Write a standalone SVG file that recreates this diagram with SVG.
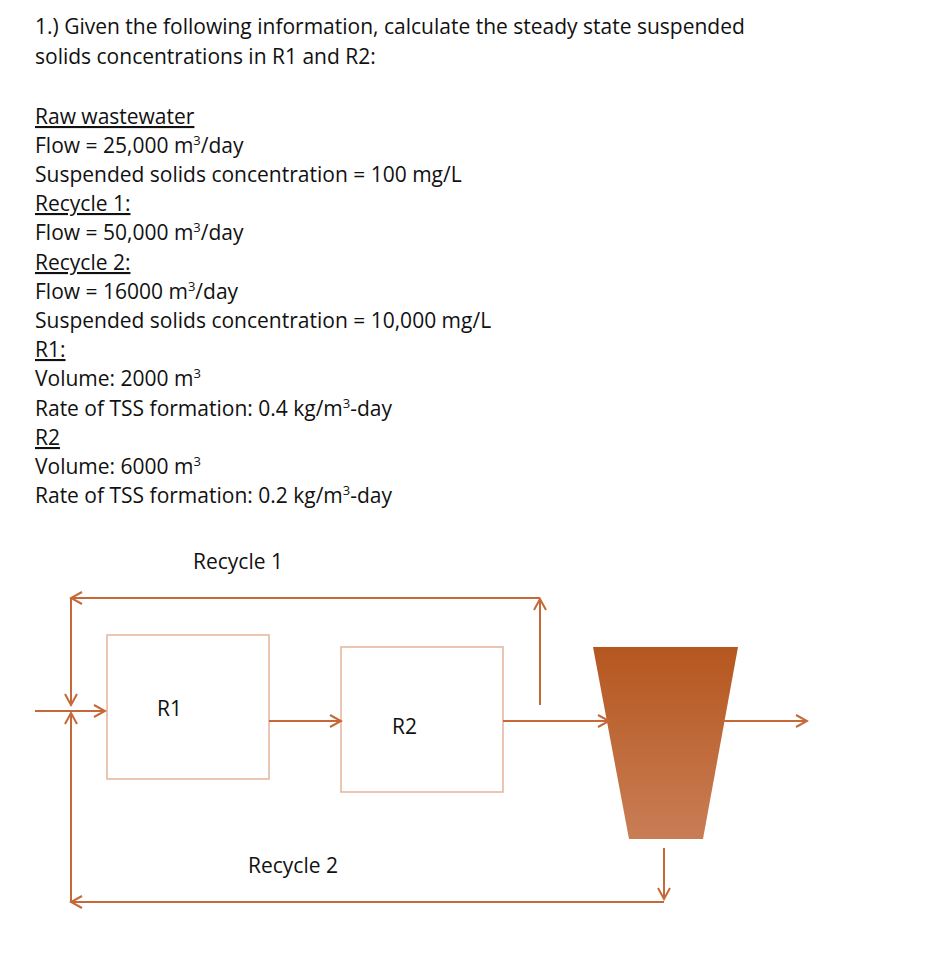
<svg xmlns="http://www.w3.org/2000/svg" width="946" height="973" viewBox="0 0 946 973">
<style>
text{font-family:"Open Sans","Liberation Sans",sans-serif;font-size:21px;fill:#111}
.u{text-decoration:underline}
.c{stroke:#c5683a;stroke-width:2;fill:none}
.box{stroke:#e3b49a;stroke-width:1.5;fill:#fff}
</style>
<defs>
<marker id="a" markerWidth="14" markerHeight="14" refX="12" refY="7" orient="auto" markerUnits="userSpaceOnUse"><path d="M1,1 L12,7 L1,13" fill="none" stroke="#c5683a" stroke-width="2"/></marker>
<linearGradient id="g" x1="0" y1="0" x2="0" y2="1"><stop offset="0" stop-color="#b5571f"/><stop offset="1" stop-color="#c97d55"/></linearGradient>
</defs>
<rect width="946" height="973" fill="#fff"/>
<g id="text">
<text x="35" y="34">1.) Given the following information, calculate the steady state suspended</text>
<text x="35" y="64">solids concentrations in R1 and R2:</text>
<text x="35" y="124" class="u">Raw wastewater</text>
<text x="35" y="153">Flow = 25,000 m<tspan font-size="13" dy="-8">3</tspan><tspan dy="8">/day</tspan></text>
<text x="35" y="182">Suspended solids concentration = 100 mg/L</text>
<text x="35" y="211" class="u">Recycle 1:</text>
<text x="35" y="240">Flow = 50,000 m<tspan font-size="13" dy="-8">3</tspan><tspan dy="8">/day</tspan></text>
<text x="35" y="270" class="u">Recycle 2:</text>
<text x="35" y="299">Flow = 16000 m<tspan font-size="13" dy="-8">3</tspan><tspan dy="8">/day</tspan></text>
<text x="35" y="328">Suspended solids concentration = 10,000 mg/L</text>
<text x="35" y="357" class="u">R1:</text>
<text x="35" y="386">Volume: 2000 m<tspan font-size="13" dy="-8">3</tspan></text>
<text x="35" y="416">Rate of TSS formation: 0.4 kg/m<tspan font-size="13" dy="-8">3</tspan><tspan dy="8">-day</tspan></text>
<text x="35" y="445" class="u">R2</text>
<text x="35" y="474">Volume: 6000 m<tspan font-size="13" dy="-8">3</tspan></text>
<text x="35" y="503">Rate of TSS formation: 0.2 kg/m<tspan font-size="13" dy="-8">3</tspan><tspan dy="8">-day</tspan></text>
<text x="193" y="569">Recycle 1</text>
<text x="248" y="873">Recycle 2</text>
</g>
<g id="R1"><rect class="box" x="107" y="635" width="162" height="144"/><text x="157" y="716">R1</text></g>
<g id="R2"><rect class="box" x="341" y="647" width="162" height="145"/><text x="392" y="734">R2</text></g>
<g id="clarifier"><polygon points="593,647 738,647 703,839 629,839" fill="url(#g)"/></g>
<g id="connectors">
<path class="c" d="M35,711 H105" marker-end="url(#a)"/>
<path class="c" d="M269,721 H341" marker-end="url(#a)"/>
<path class="c" d="M503,721 H609" marker-end="url(#a)"/>
<path class="c" d="M723,721 H807" marker-end="url(#a)"/>
<path class="c" d="M540,705 V599" marker-end="url(#a)"/>
<path class="c" d="M540,598 H71" marker-end="url(#a)"/>
<path class="c" d="M71,598 V705" marker-end="url(#a)"/>
<path class="c" d="M664,848 V899" marker-end="url(#a)"/>
<path class="c" d="M664,902 H71" marker-end="url(#a)"/>
<path class="c" d="M71,902 V713" marker-end="url(#a)"/>
</g>
</svg>
